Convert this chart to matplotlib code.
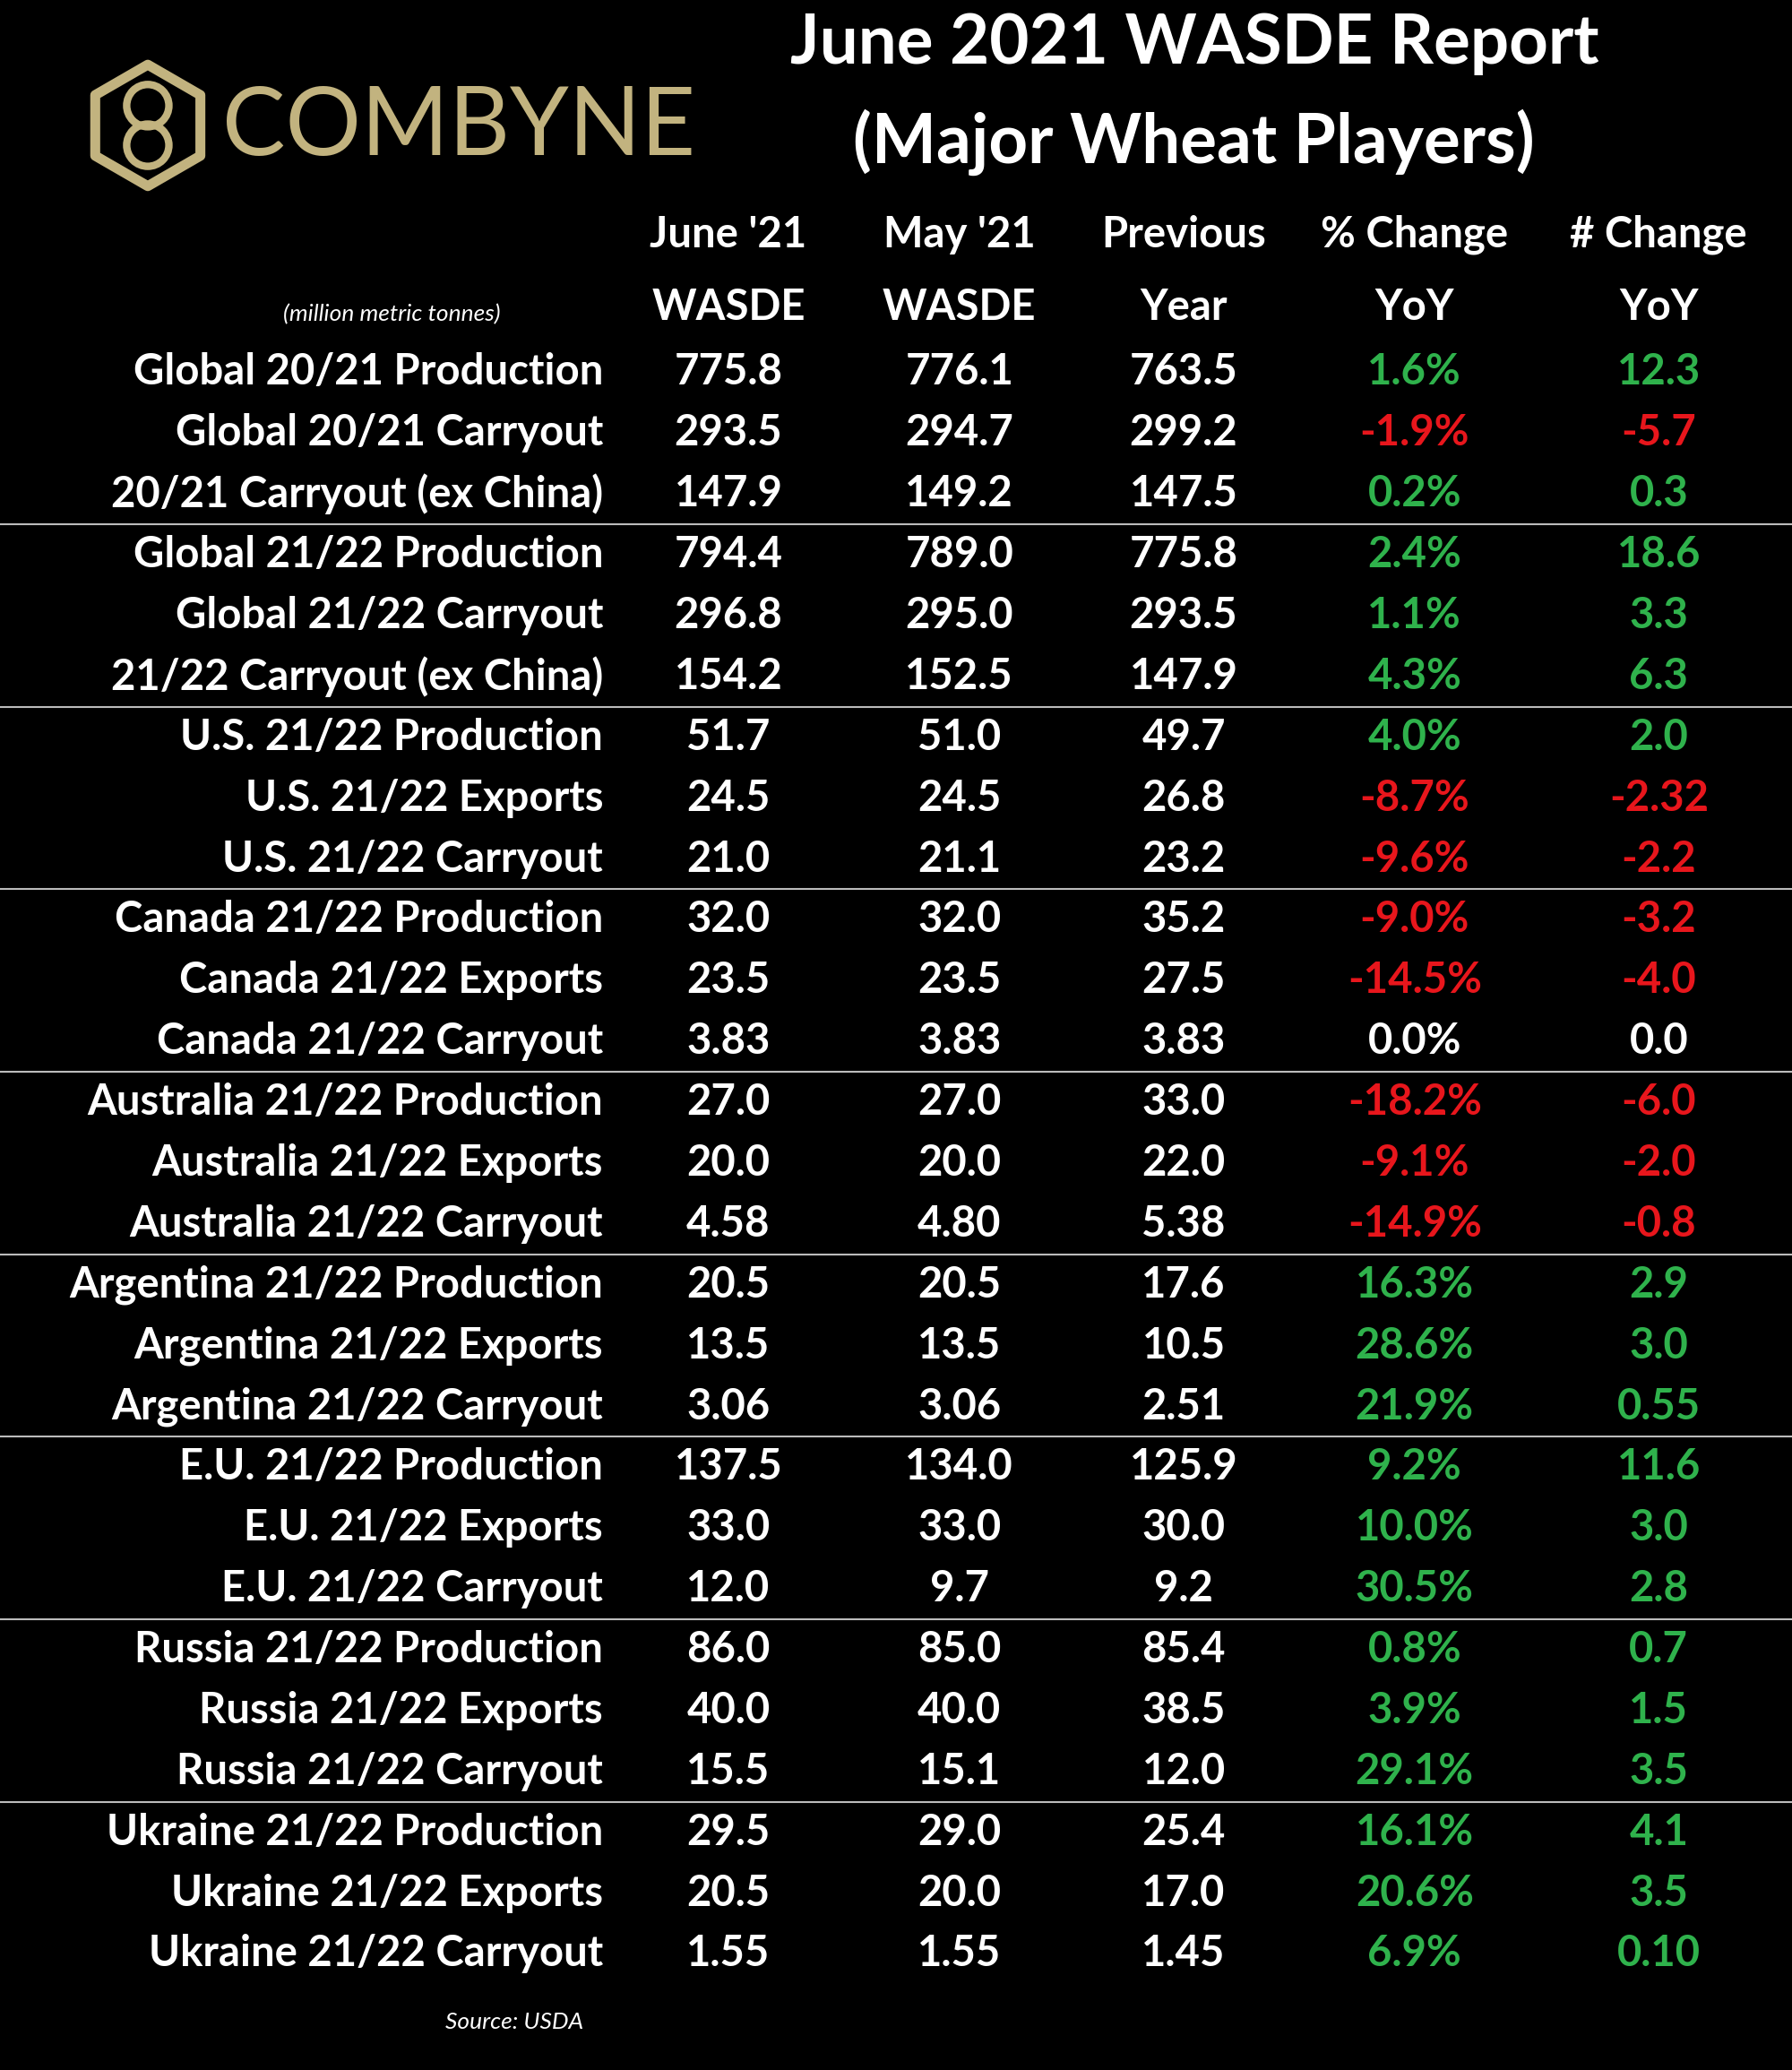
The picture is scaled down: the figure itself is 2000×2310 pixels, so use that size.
import matplotlib
matplotlib.use("Agg")
import matplotlib.pyplot as plt
from matplotlib.patches import RegularPolygon, Circle
import numpy as np

labels = [
    "Global 20/21 Production", "Global 20/21 Carryout", "20/21 Carryout (ex China)",
    "Global 21/22 Production", "Global 21/22 Carryout", "21/22 Carryout (ex China)",
    "U.S. 21/22 Production", "U.S. 21/22 Exports", "U.S. 21/22 Carryout",
    "Canada 21/22 Production", "Canada 21/22 Exports", "Canada 21/22 Carryout",
    "Australia 21/22 Production", "Australia 21/22 Exports", "Australia 21/22 Carryout",
    "Argentina 21/22 Production", "Argentina 21/22 Exports", "Argentina 21/22 Carryout",
    "E.U. 21/22 Production", "E.U. 21/22 Exports", "E.U. 21/22 Carryout",
    "Russia 21/22 Production", "Russia 21/22 Exports", "Russia 21/22 Carryout",
    "Ukraine 21/22 Production", "Ukraine 21/22 Exports", "Ukraine 21/22 Carryout",
]
june21 = ["775.8", "293.5", "147.9", "794.4", "296.8", "154.2", "51.7", "24.5", "21.0",
          "32.0", "23.5", "3.83", "27.0", "20.0", "4.58", "20.5", "13.5", "3.06",
          "137.5", "33.0", "12.0", "86.0", "40.0", "15.5", "29.5", "20.5", "1.55"]
may21 = ["776.1", "294.7", "149.2", "789.0", "295.0", "152.5", "51.0", "24.5", "21.1",
         "32.0", "23.5", "3.83", "27.0", "20.0", "4.80", "20.5", "13.5", "3.06",
         "134.0", "33.0", "9.7", "85.0", "40.0", "15.1", "29.0", "20.0", "1.55"]
prev_year = ["763.5", "299.2", "147.5", "775.8", "293.5", "147.9", "49.7", "26.8", "23.2",
             "35.2", "27.5", "3.83", "33.0", "22.0", "5.38", "17.6", "10.5", "2.51",
             "125.9", "30.0", "9.2", "85.4", "38.5", "12.0", "25.4", "17.0", "1.45"]
pct_change = [1.6, -1.9, 0.2, 2.4, 1.1, 4.3, 4.0, -8.7, -9.6, -9.0, -14.5, 0.0,
              -18.2, -9.1, -14.9, 16.3, 28.6, 21.9, 9.2, 10.0, 30.5, 0.8, 3.9, 29.1,
              16.1, 20.6, 6.9]
num_change = ["12.3", "-5.7", "0.3", "18.6", "3.3", "6.3", "2.0", "-2.32", "-2.2",
              "-3.2", "-4.0", "0.0", "-6.0", "-2.0", "-0.8", "2.9", "3.0", "0.55",
              "11.6", "3.0", "2.8", "0.7", "1.5", "3.5", "4.1", "3.5", "0.10"]
header1 = ["June '21", "May '21", "Previous", "% Change", "# Change"]
header2 = ["WASDE", "WASDE", "Year", "YoY", "YoY"]

GREEN = "#2fb24c"
RED = "#e8161c"
GOLD = "#c2b37f"
FONT = "Lato"

fig = plt.figure(figsize=(20, 23.1), dpi=100, facecolor="black")
ax = fig.add_axes([0, 0, 1, 1])
ax.set_facecolor("black")
ax.set_xlim(0, 1358)
ax.set_ylim(1568, 0)
ax.axis("off")

col_x = [552, 727, 897, 1072, 1257]
fs = 34

# title
ax.text(905, 33, "June 2021 WASDE Report", color="white", fontsize=55, fontweight="bold",
        ha="center", va="center", family=FONT)
ax.text(905, 108, "(Major Wheat Players)", color="white", fontsize=55, fontweight="bold",
        ha="center", va="center", family=FONT)

# logo
ax.add_patch(RegularPolygon((112, 95), 6, radius=46, orientation=0, fill=False,
                            ec=GOLD, lw=8, joinstyle="round"))
ax.add_patch(Circle((112, 80), 16, fill=False, ec=GOLD, lw=6))
ax.add_patch(Circle((112, 110), 16, fill=False, ec=GOLD, lw=6))
ax.text(348, 97, "COMBYNE", color=GOLD, fontsize=76, fontweight="normal",
        ha="center", va="center", family=FONT)

# headers
for x, h1, h2 in zip(col_x, header1, header2):
    ax.text(x, 178, h1, color="white", fontsize=fs, fontweight="bold", ha="center", va="center", family=FONT)
    ax.text(x, 233, h2, color="white", fontsize=fs, fontweight="bold", ha="center", va="center", family=FONT)
ax.text(297, 238, "(million metric tonnes)", color="white", fontsize=19, style="italic",
        ha="center", va="center", family=FONT)

# rows
y0, dy = 282, 46.08
for i, lab in enumerate(labels):
    y = y0 + i * dy
    c = GREEN if pct_change[i] > 0 else (RED if pct_change[i] < 0 else "white")
    ax.text(457, y, lab, color="white", fontsize=fs, fontweight="bold", ha="right", va="center", family=FONT)
    for x, v, col in zip(col_x,
                         [june21[i], may21[i], prev_year[i], f"{pct_change[i]:.1f}%", num_change[i]],
                         ["white", "white", "white", c, c]):
        ax.text(x, y, v, color=col, fontsize=fs, fontweight="bold", ha="center", va="center", family=FONT)
    if i % 3 == 2 and i < len(labels) - 1:
        ax.plot([0, 1358], [y + dy / 2, y + dy / 2], color="#bbbbbb", lw=1.5)

ax.text(390, 1532, "Source: USDA", color="white", fontsize=19, style="italic",
        ha="center", va="center", family=FONT)

fig.savefig("out.png", dpi=100, facecolor="black")
